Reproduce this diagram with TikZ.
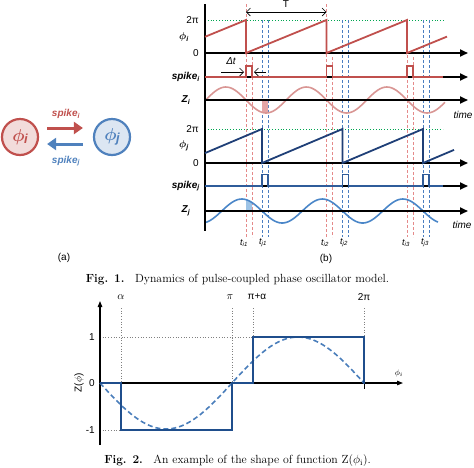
\documentclass[tikz,border=0pt]{standalone}
\usepackage{fontspec}
\usepackage{amsmath}
\newfontfamily\lsans{Liberation Sans}
\usetikzlibrary{arrows.meta}
\definecolor{redc}{HTML}{C0504D}
\definecolor{pinkc}{HTML}{D99694}
\definecolor{pinkdash}{HTML}{E58A8A}
\definecolor{pinkfill}{HTML}{F2DCDB}
\definecolor{pinkshade}{HTML}{E4A5A5}
\definecolor{navyc}{HTML}{1F3F77}
\definecolor{bluec}{HTML}{2F5C9A}
\definecolor{bluez}{HTML}{4A86C8}
\definecolor{bluedash}{HTML}{4A7EC0}
\definecolor{bluefill}{HTML}{DCE6F2}
\definecolor{blueshade}{HTML}{9DC3E6}
\definecolor{circblue}{HTML}{4F81BD}
\definecolor{greenc}{HTML}{00A651}
\definecolor{stepc}{HTML}{1F4E8C}
\definecolor{sinec}{HTML}{4A7EBB}
\begin{document}
\begin{tikzpicture}[x=1pt,y=-1pt,
  blab/.style={font=\lsans\bfseries\itshape\fontsize{10}{12}\selectfont, inner sep=0pt},
  nlab/.style={font=\lsans\fontsize{10}{12}\selectfont, inner sep=0pt},
  tlab/.style={font=\lsans\itshape\fontsize{9}{10}\selectfont, inner sep=0pt},
  axisline/.style={line width=1.8pt, -{Triangle[length=8pt,width=7pt]}},
  greendot/.style={greenc, dotted, line width=0.8pt},
  pdash/.style={pinkdash, dashed, line width=0.7pt, dash pattern=on 3pt off 2pt},
  bdash/.style={bluedash, dashed, line width=0.7pt, dash pattern=on 3pt off 2pt},
  graydot/.style={gray, dotted, line width=0.7pt},
  captionstyle/.style={font=\fontsize{11.8}{13}\selectfont, inner sep=0pt},
  circnode/.style={circle, line width=2.2pt, minimum size=36pt, inner sep=0pt, font=\lsans\bfseries\itshape\fontsize{18}{20}\selectfont}
]
\useasboundingbox (0,0) rectangle (474,467);

% ---------- panel (a)
\node[circnode, draw=redc, fill=pinkfill, text=redc] (ci) at (20,137) {$\boldsymbol{\phi}$\kern-0.5pt\raisebox{-2pt}{\fontsize{13}{14}\selectfont i}};
\node[circnode, draw=circblue, fill=bluefill, text=circblue] (cj) at (112,137) {$\boldsymbol{\phi}$\kern-0.5pt\raisebox{-2pt}{\fontsize{13}{14}\selectfont j}};
\draw[line width=3pt, redc, -{Triangle[length=9pt,width=12pt]}] ([shift={(8,-9)}]ci.east) -- ([shift={(-10,-9)}]cj.west);
\draw[line width=3pt, circblue, -{Triangle[length=9pt,width=12pt]}] ([shift={(-10,7)}]cj.west) -- ([shift={(8,7)}]ci.east);
\node[blab, text=redc] (si) at (66,114) {spike\textsubscript{i}};
\node[blab, text=circblue] (sj) at (66,161) {spike\textsubscript{j}};
\node[nlab] (la) at (64,258) {(a)};

% ---------- panel (b)
\draw[greendot] (205,20) -- (445,20);
\draw[greendot] (205,129) -- (443,129);
\foreach \t in {246,326.5} \draw[pdash] (\t,4) -- (\t,237);
\draw[pdash] (407,20) -- (407,237);
\foreach \t in {252,332.5,413} \draw[pdash] (\t,57) -- (\t,237);
\foreach \t in {262,268,342.5,348.5,423,429} \draw[bdash] (\t,20) -- (\t,237);
\fill[pinkshade] (262,100) -- plot[domain=262:268, samples=10] (\x,{100+13*sin(4.47205*(\x-246))}) -- (268,100) -- cycle;
\fill[blueshade] (246,211) -- plot[domain=246:252, samples=10] (\x,{211+12*sin(4.47205*(\x-262))}) -- (252,211) -- cycle;
\draw[pinkc, line width=1.6pt] plot[domain=205:445, samples=120, smooth] (\x,{100+13*sin(4.47205*(\x-246))});
\draw[bluez, line width=1.6pt] plot[domain=205:438, samples=120, smooth] (\x,{211+12*sin(4.47205*(\x-262))});
\draw[line width=2pt] (205,4) -- (205,231);
\foreach \yy in {53,77,100,163,186,211} \draw[axisline] (204,\yy) -- (468,\yy);
\draw[redc, line width=1.8pt] (205,36.8) -- (246,20) -- (246,53) -- (326.5,20) -- (326.5,53) -- (407,20) -- (407,53) -- (447,36.6);
\draw[navyc, line width=1.8pt] (205,153.1) -- (262,129) -- (262,163) -- (342.5,129) -- (342.5,163) -- (423,129) -- (423,163) -- (454,149.9);
\draw[redc, line width=1.6pt] (205,77) -- (246,77) -- (246,66) -- (252,66) -- (252,77) -- (326.5,77) -- (326.5,66) -- (332.5,66) -- (332.5,77) -- (407,77) -- (407,66) -- (413,66) -- (413,77) -- (443,77);
\draw[bluec, line width=1.6pt] (205,186) -- (262,186) -- (262,174.5) -- (268,174.5) -- (268,186) -- (342.5,186) -- (342.5,174.5) -- (348.5,174.5) -- (348.5,186) -- (423,186) -- (423,174.5) -- (429,174.5) -- (429,186) -- (443,186);
\coordinate (Ta) at (246,12);
\coordinate (Tb) at (326.5,12);
\draw[line width=0.6pt, {Straight Barb[length=4pt]}-{Straight Barb[length=4pt]}] (Ta) -- (Tb);
\node[nlab, anchor=north] (T) at (286,0) {T};
\node[tlab, font=\lsans\itshape\fontsize{10}{12}\selectfont] (dt) at (231,61) {Δt};
\coordinate (dta) at (221,72);
\coordinate (dtb) at (244,72);
\coordinate (dtc) at (266,72);
\coordinate (dtd) at (254,72);
\draw[line width=0.6pt, -{Straight Barb[length=4pt]}] (dta) -- (dtb);
\draw[line width=0.6pt, -{Straight Barb[length=4pt]}] (dtc) -- (dtd);
\node[nlab, anchor=east] (l2pii) at (199,20) {2π};
\node[nlab, anchor=east] (l0i) at (199,53) {0};
\node[blab] (lphii) at (184,37) {$\boldsymbol{\phi}$\textsubscript{i}};
\node[blab, anchor=east] (lspi) at (200,77) {spike\textsubscript{i}};
\node[blab] (lzi) at (186,100) {Z\textsubscript{i}};
\node[nlab, anchor=east] (l2pij) at (199,129) {2π};
\node[nlab, anchor=east] (l0j) at (199,163) {0};
\node[blab] (lphij) at (184,146) {$\boldsymbol{\phi}$\textsubscript{j}};
\node[blab, anchor=east] (lspj) at (200,186) {spike\textsubscript{j}};
\node[blab] (lzj) at (186,211) {Z\textsubscript{j}};
\node[tlab, font=\lsans\itshape\fontsize{10}{12}\selectfont] (tm1) at (463,115) {time};
\node[tlab, font=\lsans\itshape\fontsize{10}{12}\selectfont] (tm2) at (462,225) {time};
\node[tlab] (ti1) at (244,243) {t\textsubscript{i1}};
\node[tlab] (tj1) at (263,243) {t\textsubscript{j1}};
\node[tlab] (ti2) at (325,243) {t\textsubscript{i2}};
\node[tlab] (tj2) at (344,243) {t\textsubscript{j2}};
\node[tlab] (ti3) at (406,243) {t\textsubscript{i3}};
\node[tlab] (tj3) at (425,243) {t\textsubscript{j3}};
\node[nlab] (lb) at (326,259) {(b)};

\node[captionstyle] (cap1) at (237.5,280) {\textbf{Fig. 1.}\hspace{0.9em}Dynamics of pulse-coupled phase oscillator model.};

% ---------- Fig 2
\draw[graydot] (100,337) -- (253,337);
\draw[graydot] (100,430) -- (121,430);
\draw[graydot] (121,308) -- (121,430);
\draw[graydot] (232,308) -- (232,383);
\draw[graydot] (253,308) -- (253,337);
\draw[graydot] (364,308) -- (364,337);
\draw[line width=1.2pt, -{Triangle[length=6pt,width=4.5pt]}] (100,445) -- (100,301);
\draw[line width=1.2pt, -{Triangle[length=6pt,width=4.5pt]}] (100,383) -- (403,383);
\draw[line width=1pt] (364,383) -- (364,389);
\draw[sinec, line width=1.6pt, dash pattern=on 5pt off 3pt] plot[domain=0:264, samples=100, smooth] ({100+\x},{383+46*sin(1.363636*\x)});
\draw[stepc, line width=2.5pt, line join=miter] (100,383) -- (121,383) -- (121,430) -- (232,430) -- (232,383) -- (253,383) -- (253,337) -- (364,337) -- (364,384);
\node[inner sep=0pt, font=\fontsize{10.5}{12}\selectfont] (la1) at (121,297) {$\alpha$};
\node[inner sep=0pt, font=\fontsize{10.5}{12}\selectfont] (la2) at (230,297) {$\pi$};
\node[nlab] (la3) at (257,297) {π+α};
\node[nlab] (la4) at (364,297) {2π};
\node[nlab, anchor=east] (y1) at (95,337) {1};
\node[nlab, anchor=east] (y0) at (95,383) {0};
\node[nlab, anchor=east] (ym1) at (95,430) {-1};
\node[nlab, rotate=90] (zl) at (79,383) {Z($\phi$)};
\node[inner sep=0pt, font=\fontsize{8}{9}\selectfont] (phl) at (399,373) {$\phi_i$};
\node[captionstyle] (cap2) at (237.5,461) {\textbf{Fig. 2.}\hspace{0.9em}An example of the shape of function Z($\phi_{\mathrm{i}}$).};
\end{tikzpicture}
\end{document}
